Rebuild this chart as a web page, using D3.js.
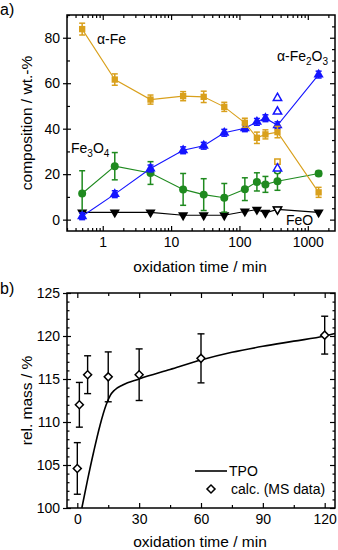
<!DOCTYPE html>
<html>
<head>
<meta charset="utf-8">
<script src="https://cdn.jsdelivr.net/npm/d3@7"></script>
<style>
  body { margin: 0; background: #fff; }
  svg { display: block; font-family: "Liberation Sans", Arial, sans-serif; }
  .axis text { font-size: 14px; fill: #000; }
  .axis path { display: none; }
  .axis line { stroke: #000; stroke-width: 1.2; }
</style>
</head>
<body>
<svg width="338" height="550"></svg>
<script>
// panel a: phase composition vs oxidation time (log)
var times = [0.5, 1.5, 5, 15, 30, 60, 120, 180, 240, 360, 1440];
var alphaFe = [83.8, 61.6, 52.8, 54.3, 54, 49.6, 42.6, 36, 37.5, 38.5, 12];
var alphaFeErr = [2.6, 2.5, 2, 2, 2.5, 2, 2, 2.5, 2, 2.5, 2.2];
var fe2o3 = [1.5, 11.2, 22.5, 30.5, 32.5, 38.2, 40.2, 43, 44.6, 41.5, 63.8];
var fe2o3Err = [1.5, 1.5, 1.5, 1.5, 1.5, 1.5, 1.5, 1.5, 1.5, 1.5, 1.5];
var fe3o4 = [11.5, 23.5, 20.5, 13.3, 11, 9.6, 13.4, 16.6, 15.5, 16.9, 20.3];
var fe3o4Err = [10, 6, 5, 7, 7, 6.3, 5, 4, 3.5, 4, 1];
var feo = [3.2, 3.2, 3.2, 1.9, 1.9, 1.9, 3.6, 4.4, 3, 4.5, 3.2];

// second measurement at 360 min (open symbols)
var openTime = 360;
var alphaFeOpen = [25.5];
var fe2o3Open = [53.5, 47.5, 22.5];
var fe3o4Open = [21.5];
var feoOpen = [4.5];

var xTicksA = [1, 10, 100, 1000];
var yTicksA = [0, 20, 40, 60, 80];

// panel b: relative mass
var tpoTime = [2.2, 5, 8, 11, 14, 16, 18, 22, 30, 45, 60, 75, 90, 105, 120, 125];
var tpoMass = [100, 103.3, 106.6, 109.6, 112, 113.1, 113.7, 114.3, 115, 116.1, 117.2, 118.1, 118.8, 119.4, 120, 120.3];
var msTime = [0, 1, 5, 15, 30, 60, 120];
var msMass = [104.6, 112, 115.5, 115.25, 115.5, 117.4, 120.1];
var msErr = [3, 2.6, 2.2, 2.9, 3, 2.85, 2.2];

var xTicksB = [0, 30, 60, 90, 120];
var yTicksB = [100, 105, 110, 115, 120, 125];

var gold = "#d9a01c", blue = "#1414ff", green = "#1f8a1f";

var svg = d3.select("svg");

// ---------- panel a ----------
var ma = {left: 67, top: 15, w: 268, h: 216};
var xa = d3.scaleLog().domain([0.3, 2500]).range([0, ma.w]);
var ya = d3.scaleLinear().domain([-5, 90]).range([ma.h, 0]);

var ga = svg.append("g").attr("transform", "translate(" + ma.left + "," + ma.top + ")");

// minor log ticks
var minorA = xa.ticks().filter(function(t) { return xTicksA.indexOf(t) < 0; });
ga.append("g").attr("class", "axis").attr("transform", "translate(0," + ma.h + ")")
  .call(d3.axisBottom(xa).tickValues(minorA).tickSize(-3).tickFormat(""));
ga.append("g").attr("class", "axis")
  .call(d3.axisTop(xa).tickValues(minorA).tickSize(-3).tickFormat(""));
ga.append("g").attr("class", "axis").attr("transform", "translate(0," + ma.h + ")")
  .call(d3.axisBottom(xa).tickValues(xTicksA).tickSize(-5).tickPadding(6).tickFormat(d3.format("d")));
ga.append("g").attr("class", "axis")
  .call(d3.axisTop(xa).tickValues(xTicksA).tickSize(-5).tickFormat(""));

ga.append("g").attr("class", "axis")
  .call(d3.axisLeft(ya).tickValues(yTicksA).tickSize(4).tickPadding(3));
ga.append("g").attr("class", "axis")
  .call(d3.axisLeft(ya).tickValues(yTicksA).tickSize(-4).tickFormat(""));
ga.append("g").attr("class", "axis")
  .call(d3.axisLeft(ya).tickValues([10, 30, 50, 70, 90]).tickSize(-3).tickFormat(""));
ga.append("g").attr("class", "axis").attr("transform", "translate(" + ma.w + ",0)")
  .call(d3.axisRight(ya).tickValues(yTicksA).tickSize(-5).tickFormat(""));
ga.append("g").attr("class", "axis").attr("transform", "translate(" + ma.w + ",0)")
  .call(d3.axisRight(ya).tickValues([5, 10, 15, 25, 30, 35, 45, 50, 55, 65, 70, 75, 85]).tickSize(-3).tickFormat(""));

ga.append("rect").attr("width", ma.w).attr("height", ma.h)
  .attr("fill", "none").attr("stroke", "#000").attr("stroke-width", 1.5);

function series(vals, errs, color, sym, rot, size) {
  var pts = times.map(function(t, i) { return {t: t, v: vals[i], e: errs ? errs[i] : 0}; });
  var line = d3.line().x(function(d) { return xa(d.t); }).y(function(d) { return ya(d.v); });
  ga.append("path").datum(pts).attr("d", line)
    .attr("fill", "none").attr("stroke", color).attr("stroke-width", 1.1);
  if (errs) {
    var eb = ga.selectAll(null).data(pts).enter().append("g")
      .attr("stroke", color).attr("stroke-width", 1.5);
    eb.append("line")
      .attr("x1", function(d) { return xa(d.t); }).attr("x2", function(d) { return xa(d.t); })
      .attr("y1", function(d) { return ya(d.v + d.e); }).attr("y2", function(d) { return ya(d.v - d.e); });
    eb.append("line")
      .attr("x1", function(d) { return xa(d.t) - 3; }).attr("x2", function(d) { return xa(d.t) + 3; })
      .attr("y1", function(d) { return ya(d.v + d.e); }).attr("y2", function(d) { return ya(d.v + d.e); });
    eb.append("line")
      .attr("x1", function(d) { return xa(d.t) - 3; }).attr("x2", function(d) { return xa(d.t) + 3; })
      .attr("y1", function(d) { return ya(d.v - d.e); }).attr("y2", function(d) { return ya(d.v - d.e); });
  }
  ga.selectAll(null).data(pts).enter().append("path")
    .attr("d", d3.symbol().type(sym).size(size))
    .attr("transform", function(d) { return "translate(" + xa(d.t) + "," + ya(d.v) + ") rotate(" + rot + ")"; })
    .attr("fill", color);
}

function openPts(vals, color, sym, rot, size) {
  ga.selectAll(null).data(vals).enter().append("path")
    .attr("d", d3.symbol().type(sym).size(size))
    .attr("transform", function(d) { return "translate(" + xa(openTime) + "," + ya(d) + ") rotate(" + rot + ")"; })
    .attr("fill", "#fff").attr("stroke", color).attr("stroke-width", 1.5);
}

series(feo, null, "#000", d3.symbolTriangle, 180, 45);
series(fe3o4, fe3o4Err, green, d3.symbolCircle, 0, 50);
series(fe2o3, fe2o3Err, blue, d3.symbolTriangle, 0, 45);
series(alphaFe, alphaFeErr, gold, d3.symbolSquare, 0, 40);
openPts(feoOpen, "#000", d3.symbolTriangle, 180, 30);
openPts(alphaFeOpen, gold, d3.symbolSquare, 0, 28);
openPts(fe3o4Open, green, d3.symbolCircle, 0, 30);
openPts(fe2o3Open, blue, d3.symbolTriangle, 0, 30);

// phase labels
var lab = svg.append("g").style("font-size", "14px");
lab.append("text").attr("x", 97).attr("y", 44).text("\u03b1-Fe");
var t1 = lab.append("text").attr("x", 328).attr("y", 61).attr("text-anchor", "end");
t1.append("tspan").text("\u03b1-Fe");
t1.append("tspan").attr("dy", 4).style("font-size", "10px").text("2");
t1.append("tspan").attr("dy", -4).text("O");
t1.append("tspan").attr("dy", 4).style("font-size", "10px").text("3");
var t2 = lab.append("text").attr("x", 71).attr("y", 153);
t2.append("tspan").text("Fe");
t2.append("tspan").attr("dy", 4).style("font-size", "10px").text("3");
t2.append("tspan").attr("dy", -4).text("O");
t2.append("tspan").attr("dy", 4).style("font-size", "10px").text("4");
lab.append("text").attr("x", 286).attr("y", 225).text("FeO");

svg.append("text").attr("x", 200).attr("y", 272).attr("text-anchor", "middle")
  .style("font-size", "15.5px").text("oxidation time / min");
svg.append("text").attr("transform", "translate(32," + (ma.top + ma.h / 2) + ") rotate(-90)")
  .attr("text-anchor", "middle").style("font-size", "15.5px").text("composition / wt.-%");
svg.append("text").attr("x", 0).attr("y", 15).style("font-size", "16px").text("a)");

// ---------- panel b ----------
var mb = {left: 67, top: 293, w: 268, h: 215};
var xb = d3.scaleLinear().domain([-5, 125]).range([0, mb.w]);
var yb = d3.scaleLinear().domain([100, 125]).range([mb.h, 0]);

var gb = svg.append("g").attr("transform", "translate(" + mb.left + "," + mb.top + ")");

var minorXB = d3.range(15, 121, 30);
var minorYB = d3.range(101, 125).filter(function(v) { return v % 5 != 0; });
gb.append("g").attr("class", "axis").attr("transform", "translate(0," + mb.h + ")")
  .call(d3.axisBottom(xb).tickValues(xTicksB).tickSize(-5).tickPadding(6));
gb.append("g").attr("class", "axis").attr("transform", "translate(0," + mb.h + ")")
  .call(d3.axisBottom(xb).tickValues(minorXB).tickSize(-3).tickFormat(""));
gb.append("g").attr("class", "axis")
  .call(d3.axisTop(xb).tickValues(xTicksB).tickSize(-5).tickFormat(""));
gb.append("g").attr("class", "axis")
  .call(d3.axisTop(xb).tickValues(minorXB).tickSize(-3).tickFormat(""));
gb.append("g").attr("class", "axis")
  .call(d3.axisLeft(yb).tickValues(yTicksB).tickSize(4).tickPadding(3));
gb.append("g").attr("class", "axis")
  .call(d3.axisLeft(yb).tickValues(yTicksB).tickSize(-4).tickFormat(""));
gb.append("g").attr("class", "axis")
  .call(d3.axisLeft(yb).tickValues(minorYB).tickSize(-2.5).tickFormat(""));
gb.append("g").attr("class", "axis").attr("transform", "translate(" + mb.w + ",0)")
  .call(d3.axisRight(yb).tickValues(yTicksB).tickSize(-5).tickFormat(""));
gb.append("g").attr("class", "axis").attr("transform", "translate(" + mb.w + ",0)")
  .call(d3.axisRight(yb).tickValues(minorYB).tickSize(-2.5).tickFormat(""));

gb.append("rect").attr("width", mb.w).attr("height", mb.h)
  .attr("fill", "none").attr("stroke", "#000").attr("stroke-width", 1.5);

var tpo = tpoTime.map(function(t, i) { return [t, tpoMass[i]]; });
gb.append("path").datum(tpo)
  .attr("d", d3.line().curve(d3.curveMonotoneX)
    .x(function(d) { return xb(d[0]); }).y(function(d) { return yb(d[1]); }))
  .attr("fill", "none").attr("stroke", "#000").attr("stroke-width", 1.6);

var ms = msTime.map(function(t, i) { return {t: t, v: msMass[i], e: msErr[i]}; });
var ebb = gb.selectAll(null).data(ms).enter().append("g")
  .attr("stroke", "#000").attr("stroke-width", 1.4);
ebb.append("line")
  .attr("x1", function(d) { return xb(d.t); }).attr("x2", function(d) { return xb(d.t); })
  .attr("y1", function(d) { return yb(d.v + d.e); }).attr("y2", function(d) { return yb(d.v - d.e); });
ebb.append("line")
  .attr("x1", function(d) { return xb(d.t) - 3.5; }).attr("x2", function(d) { return xb(d.t) + 3.5; })
  .attr("y1", function(d) { return yb(d.v + d.e); }).attr("y2", function(d) { return yb(d.v + d.e); });
ebb.append("line")
  .attr("x1", function(d) { return xb(d.t) - 3.5; }).attr("x2", function(d) { return xb(d.t) + 3.5; })
  .attr("y1", function(d) { return yb(d.v - d.e); }).attr("y2", function(d) { return yb(d.v - d.e); });

var diamond = d3.symbol().type(d3.symbolSquare).size(32);
gb.selectAll(null).data(ms).enter().append("path")
  .attr("d", diamond)
  .attr("transform", function(d) { return "translate(" + xb(d.t) + "," + yb(d.v) + ") rotate(45)"; })
  .attr("fill", "#fff").attr("stroke", "#000").attr("stroke-width", 1.5);

// legend
var lg = svg.append("g").style("font-size", "14px");
lg.append("line").attr("x1", 195).attr("x2", 227).attr("y1", 471).attr("y2", 471)
  .attr("stroke", "#000").attr("stroke-width", 1.6);
lg.append("text").attr("x", 229).attr("y", 476).text("TPO");
lg.append("path").attr("d", diamond)
  .attr("transform", "translate(211,489) rotate(45)")
  .attr("fill", "#fff").attr("stroke", "#000").attr("stroke-width", 1.5);
lg.append("text").attr("x", 231).attr("y", 494).text("calc. (MS data)");

svg.append("text").attr("x", 200).attr("y", 547).attr("text-anchor", "middle")
  .style("font-size", "15.5px").text("oxidation time / min");
svg.append("text").attr("transform", "translate(32," + (mb.top + mb.h / 2) + ") rotate(-90)")
  .attr("text-anchor", "middle").style("font-size", "15.5px").text("rel. mass / %");
svg.append("text").attr("x", 0).attr("y", 294).style("font-size", "16px").text("b)");
</script>
</body>
</html>
